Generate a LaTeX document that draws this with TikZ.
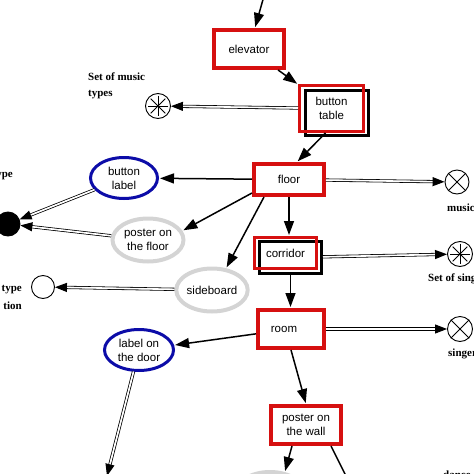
\documentclass[tikz,border=0pt]{standalone}
\usepackage{fontspec}
\setmainfont{Liberation Serif}
\newfontfamily\arialf{Liberation Sans}
\usetikzlibrary{arrows.meta,shapes.geometric,calc}
\definecolor{boxred}{RGB}{214,16,16}
\definecolor{ellblue}{RGB}{12,12,168}
\definecolor{ellgray}{RGB}{212,212,212}
\newcommand\mycross[1]{\draw[line width=0.9pt] (#1.45) -- (#1.225) (#1.135) -- (#1.-45);}
\newcommand\mystar[1]{\foreach \a in {0,45,90,135}{\draw[line width=0.9pt] ($(#1)!0.8!(#1.\a)$) -- ($(#1)!0.8!(#1.\a+180)$);}}
\begin{document}
\begin{tikzpicture}[x=1pt,y=-1pt,
  txt/.style={font=\arialf\fontsize{11.5}{14}\selectfont, align=center, inner sep=0pt},
  redbox/.style={txt, rectangle, draw=boxred, line width=4pt},
  shadowbox/.style={rectangle, draw=black, line width=3pt, inner sep=0pt},
  blueell/.style={txt, ellipse, draw=ellblue, line width=3pt},
  grayell/.style={txt, ellipse, draw=ellgray, line width=4pt},
  circ/.style={circle, draw, line width=0.9pt, minimum size=24pt, inner sep=0pt},
  lbl/.style={font=\bfseries\fontsize{11}{16}\selectfont, inner sep=0pt},
  arr/.style={line width=1.5pt, -{Triangle[length=14pt,width=10pt]}, shorten >=1pt},
  dbl/.style={preaction={draw, double, double distance=1.6pt, line width=0.8pt, shorten >=9pt},
              postaction={draw=white, line width=1pt, -{Triangle[length=12pt,width=9pt,color=black]}}},
  plain/.style={line width=1.5pt}]
\useasboundingbox (0,0) rectangle (474,474);
\clip (0,0) rectangle (474,474);
% boxes
\node[redbox, minimum width=70, minimum height=38] (elev) at (249,49) {elevator};
\node[shadowbox, minimum width=63, minimum height=45] (btB) at (337,113) {};
\node[redbox, line width=3pt, minimum width=64, minimum height=46] (btR) at (331.5,108.5) {button\\table};
\node[redbox, minimum width=70, minimum height=31] (floor) at (289,179.5) {floor};
\node[shadowbox, minimum width=62, minimum height=32] (corB) at (290.5,257.5) {};
\node[redbox, line width=3pt, minimum width=62, minimum height=31] (corR) at (285.5,253) {corridor};
\node[redbox, minimum width=66, minimum height=38] (room) at (291,329) {room\hspace*{14pt}};
\node[redbox, minimum width=70, minimum height=38] (wall) at (306,425) {poster on\\the wall};
% ellipses
\node[blueell, minimum width=67, minimum height=41] (blabel) at (124,178) {button\\label};
\node[grayell, minimum width=71, minimum height=43] (pfloor) at (148,240) {poster on\\the floor};
\node[grayell, minimum width=71, minimum height=43] (side) at (212,290) {sideboard};
\node[blueell, minimum width=69, minimum height=41] (ldoor) at (139,350) {label on\\the door};
\node[grayell, minimum width=70, minimum height=44] (bot) at (270,494) {};
% circles
\node[circ, minimum size=25] (musicT) at (158,106) {};
\mystar{musicT}
\node[circ] (music) at (457,182) {};
\mycross{music}
\node[circ, fill=black] (dot) at (8,224) {};
\node[circ, minimum size=23] (tinfo) at (43,287) {};
\node[circ, minimum size=25] (singers) at (460,254) {};
\mystar{singers}
\node[circ, minimum size=25] (singer) at (460,329) {};
\mycross{singer}
% labels
\node[lbl, anchor=north west, align=left] (lmt) at (88,73) {Set of music\\types};
\node[lbl, anchor=base west] (lmusic) at (447,211) {music};
\node[lbl, anchor=base west] (lsingers) at (428,281) {Set of singers};
\node[lbl, anchor=base west] (lsinger) at (448,356) {singer};
\node[lbl, anchor=base east] (ltype) at (13,177) {type};
\node[lbl, anchor=base east] (ltype2) at (22,291) {type};
\node[lbl, anchor=base east] (ltion) at (22,309) {tion};
\node[lbl, anchor=base west] (ldance) at (443,478) {dance};
% free ends
\coordinate (topin) at (264,-4);
\coordinate (dl) at (107,476);
\coordinate (offr) at (351,486);
% connectors
\draw[arr] (topin) -- (elev);
\draw[arr] (elev) -- (btR);
\draw[arr] ($(btR.south)+(-6,0)$) -- ($(floor.north)+(8,0)$);
\path[dbl] (btR) -- (musicT);
\draw[arr] (floor) -- (blabel);
\path[dbl] (floor) -- (music);
\draw[arr] ($(floor.south west)+(0,-4)$) -- (pfloor.15);
\draw[arr] ($(floor.south west)+(12,0)$) -- (side.57);
\draw[arr] (floor.south) -- (floor.south |- corR.north);
\path[dbl] (blabel) -- (dot);
\path[dbl] (pfloor) -- (dot);
\path[dbl] (side) -- (tinfo);
\path[dbl] (corB) -- (singers);
\draw[arr] (corB.south) -- (corB.south |- room.north);
\path[dbl] (room) -- (singer);
\draw[arr] (room) -- (ldoor);
\draw[arr] (room.south) -- (wall.north);
\path[dbl] (ldoor) -- (dl);
\draw[arr] ($(wall.south)+(-14,0)$) -- (bot.56);
\draw[plain] ($(wall.south)+(25,0)$) -- (offr);
\end{tikzpicture}
\end{document}
